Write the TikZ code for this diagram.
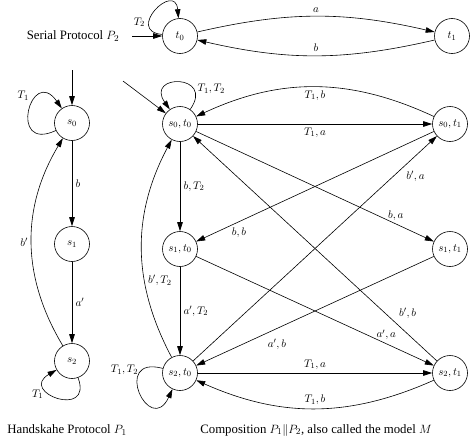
\documentclass[tikz,border=0pt]{standalone}
\usepackage{fontspec}
\setmainfont{Liberation Serif}
\usetikzlibrary{arrows.meta}
\begin{document}
\begin{tikzpicture}[x=1pt,y=-1pt,line width=0.6pt,
    st/.style={circle,draw,minimum size=35pt,inner sep=0pt},
    every node/.style={font=\fontsize{11}{13}\selectfont},
    captext/.style={font=\fontsize{12.8}{15}\selectfont},
    >={Triangle[length=9pt,width=5.5pt]}]
  \useasboundingbox (0,0) rectangle (474,439);
  % serial protocol
  \draw
    (180,36) node[st] (t0){$t_0$}
    (452,36) node[st] (t1){$t_1$}
    (73,36) node[captext] (p2){Serial Protocol $P_2$}
    (132,36) coordinate (i2);
  % handshake protocol
  \draw
    (72,123) node[st] (s0){$s_0$}
    (72,244) node[st] (s1){$s_1$}
    (72,361) node[st] (s2){$s_2$}
    (67,430) node[captext] (p1){Handskahe Protocol $P_1$}
    (72,70) coordinate (i1);
  % composition
  \draw
    (180,124) node[st] (00){$s_0,t_0$}
    (450,124) node[st] (01){$s_0,t_1$}
    (180,249) node[st] (10){$s_1,t_0$}
    (450,249) node[st] (11){$s_1,t_1$}
    (180,373) node[st] (20){$s_2,t_0$}
    (450,373) node[st] (21){$s_2,t_1$}
    (316,430) node[captext] (m){Composition $P_1\|P_2$, also called the model $M$}
    (123,81) coordinate (i3);
  \begin{scope}[->]
    \draw (i2) to (t0);
    \draw (t0) to[out=175,in=95,looseness=4.2] node[pos=.3,left]{$T_2$} (t0);
    \draw (t0) to[bend left=13] node[above]{$a$} (t1);
    \draw (t1) to[bend left=13] node[above]{$b$} (t0);

    \draw (i1) to (s0);
    \draw (s0) to[out=205,in=125,looseness=6] node[pos=.6,above left]{$T_1$} (s0);
    \draw (s0) to node[right]{$b$} (s1);
    \draw (s1) to node[right]{$a'$} (s2);
    \draw (s2) to[bend left=31] node[left]{$b'$} (s0);
    \draw (s2) to[out=290,in=210,looseness=5] node[pos=.6,left=5pt]{$T_1$} (s2);

    \draw (i3) to (00);
    \draw (00) to[out=55,in=125,looseness=5.5] node[pos=.25,right]{$T_1,T_2$} (00);
    \draw (00) to node[below]{$T_1,a$} (01);
    \draw (01) to[bend right=25] node[below]{$T_1,b$} (00);
    \draw (00) to node[right]{$b,T_2$} (10);
    \draw (00) to node[pos=.84,above]{$b,a$} (11);
    \draw (01) to node[pos=.82,below=3pt]{$b,b$} (10);
    \draw (10) to node[right]{$a',T_2$} (20);
    \draw (10) to node[pos=.8,above]{$a',a$} (21);
    \draw (11) to node[pos=.66,below=7pt]{$a',b$} (20);
    \draw (20) to node[pos=.86,below right]{$b',a$} (01);
    \draw (21) to node[pos=.17,above right]{$b',b$} (00);
    \draw (20) to node[above]{$T_1,a$} (21);
    \draw (21) to[bend left=24] node[above]{$T_1,b$} (20);
    \draw (20) to[bend left=28] node[pos=.35,right]{$b',T_2$} (00);
    \draw (20) to[out=165,in=245,looseness=6] node[pos=.2,left]{$T_1,T_2$} (20);
  \end{scope}
\end{tikzpicture}
\end{document}
